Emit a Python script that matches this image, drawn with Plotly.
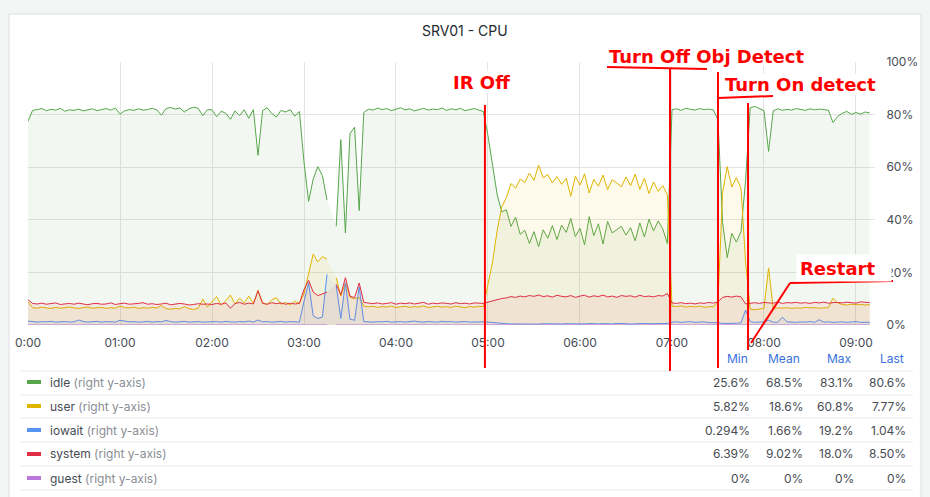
import plotly.graph_objects as go

# ---------------- data ----------------
STEP_MIN = 3  # sample spacing, minutes from 00:00

tick_minutes = [0, 60, 120, 180, 240, 300, 360, 420, 480, 540]
tick_labels = ["0:00", "01:00", "02:00", "03:00", "04:00", "05:00",
               "06:00", "07:00", "08:00", "09:00"]
y_ticks = [0, 20, 40, 60, 80, 100]
y_tick_labels = ["0%", "20%", "40%", "60%", "80%", "100%"]

idle = [
    # 00:00-01:57
    77.5, 81.6, 81.9, 82.3, 81.5, 82.0, 81.7, 82.4, 81.3, 81.8,
    81.6, 82.1, 81.4, 81.9, 82.2, 81.5, 81.8, 82.3, 81.7, 82.5,
    80.2, 81.4, 81.9, 81.6, 82.2, 81.7, 81.9, 82.4, 81.8, 79.8,
    82.3, 82.7, 82.1, 82.5, 81.0, 82.2, 82.8, 82.4, 79.6, 81.9,
    # 02:00-02:57
    81.8, 79.2, 81.3, 80.5, 78.2, 81.4, 79.6, 81.8, 78.6, 81.9,
    64.5, 81.5, 82.6, 80.4, 79.1, 81.6, 81.0, 81.9, 79.4, 81.2,
    # 03:00-03:39
    62.0, 47.0, 55.5, 60.2, 56.8, 47.5, None, 37.5, 70.5, 35.0,
    72.8, 75.2, 43.5, 80.8,
    # 03:42-04:54
    82.1, 81.7, 82.5, 81.9, 82.3, 81.5, 82.0, 82.6, 81.8, 82.2,
    81.4, 82.0, 82.4, 81.7, 82.1, 81.9, 82.5, 81.6, 82.2, 81.8,
    82.4, 81.5, 82.0, 82.3, 81.7,
    # 04:57-06:57
    81.2, 72.0, 61.0, 49.5, 43.0, 43.8, 37.5, 41.0, 34.5, 36.0,
    31.0, 35.5, 29.8, 36.2, 33.0, 37.8, 32.5, 38.0, 35.2, 40.5,
    33.6, 36.8, 30.5, 41.2, 34.0, 38.5, 30.8, 39.4, 35.0, 36.2,
    37.5, 34.2, 37.0, 32.0, 38.8, 33.5, 40.2, 35.8, 39.6, 36.5,
    31.0,
    # 07:00-07:27
    81.8, 82.2, 81.6, 82.4, 82.0, 81.7, 82.3, 81.9, 82.1, 81.8,
    # 07:30-07:48
    78.0, 39.0, 25.6, 34.8, 31.5, 35.5, 55.0,
    # 07:51-09:09
    82.6, 83.1, 82.4, 81.5, 66.0, 81.4, 82.2, 81.6, 82.0, 81.7,
    82.3, 82.0, 81.6, 82.2, 81.8, 82.1, 81.9, 81.7, 77.0, 79.3,
    80.5, 81.2, 80.1, 80.8, 80.2, 81.0, 80.6,
]

user = [
    8.8, 6.6, 6.4, 6.8, 6.5, 6.3, 6.7, 6.4, 6.6, 6.9,
    6.5, 6.3, 6.6, 6.8, 6.4, 6.5, 6.7, 6.3, 6.6, 6.4,
    7.2, 6.6, 6.5, 6.8, 6.3, 6.6, 6.4, 6.7, 6.5, 7.4,
    6.2, 6.0, 6.3, 6.1, 7.0, 6.2, 5.9, 6.4, 9.8, 6.8,
    8.6, 10.8, 7.6, 9.2, 11.4, 8.0, 10.2, 8.4, 11.0, 8.2,
    13.2, 8.5, 7.8, 9.6, 10.4, 7.9, 8.6, 7.7, 9.0, 8.3,
    12.0, 20.0, 27.0, 24.0, 26.0, 25.0, None, 18.0, 11.0, 16.0,
    10.5, 10.0, 10.5, 7.2,
    6.9, 7.1, 6.7, 7.0, 6.8, 7.2, 6.6, 6.9, 7.1, 6.7,
    7.0, 6.8, 7.3, 6.6, 6.9, 7.1, 6.8, 7.0, 6.7, 7.2,
    6.9, 6.6, 7.0, 6.8, 7.1,
    7.0, 15.5, 24.0, 36.0, 45.0, 48.5, 53.8, 52.0, 55.5, 54.2,
    57.8, 55.0, 60.8, 56.0, 57.2, 54.0, 56.5, 53.5, 55.8, 49.0,
    56.6, 53.2, 57.5, 50.2, 55.4, 52.8, 57.0, 51.5, 55.2, 54.0,
    52.6, 56.3, 53.0, 57.4, 51.6, 55.8, 50.0, 54.4, 50.8, 53.0,
    49.5,
    7.2, 7.0, 7.3, 6.8, 7.1, 6.9, 7.2, 6.7, 7.0, 6.9,
    9.0, 50.5, 60.2, 52.5, 56.0, 52.0, 24.0,
    6.0, 5.82, 6.2, 6.4, 21.7, 6.3, 6.5, 6.4, 6.6, 6.3,
    6.5, 6.4, 6.7, 6.5, 6.6, 6.4, 6.5, 6.6, 10.2, 8.4,
    7.8, 7.6, 7.9, 7.7, 7.8, 7.6, 7.77,
]

iowait = [
    1.5, 1.2, 1.1, 1.3, 1.2, 1.4, 1.1, 1.2, 1.3, 1.1,
    1.2, 1.9, 1.3, 1.1, 1.2, 1.4, 1.1, 1.3, 1.2, 1.1,
    1.8, 1.6, 1.2, 1.3, 1.1, 1.2, 1.4, 1.1, 1.3, 1.2,
    1.7, 1.3, 1.1, 1.2, 1.4, 1.1, 1.2, 1.3, 1.1, 1.2,
    1.2, 1.3, 1.1, 1.4, 1.2, 1.1, 1.3, 1.2, 1.5, 1.1,
    1.9, 1.2, 1.3, 1.1, 1.2, 1.4, 1.1, 1.3, 1.2, 1.1,
    9.0, 16.0, 3.5, 2.5, 3.0, 19.2, None, 15.0, 2.5, 16.0,
    2.2, 1.8, 14.5, 1.3,
    1.2, 1.1, 1.3, 1.2, 1.4, 1.1, 1.2, 1.3, 1.1, 1.2,
    1.5, 1.2, 1.1, 1.3, 1.2, 1.1, 1.4, 1.2, 1.3, 1.1,
    1.2, 1.3, 1.1, 1.2, 1.3,
    1.2, 1.1, 0.9, 0.8, 0.6, 0.5,
    0.4, 0.35, 0.5, 0.3, 0.45, 0.4, 0.33, 0.5, 0.4, 0.294,
    0.45, 0.38, 0.5, 0.42, 0.35, 0.48, 0.4, 0.55, 0.36, 0.44,
    0.5, 0.38, 0.42, 0.6, 0.4, 0.47, 0.35, 0.5, 0.42, 0.6,
    0.45, 0.5, 0.55, 0.7, 0.6,
    1.1, 1.2, 1.0, 1.1, 1.3, 1.0, 1.1, 1.2, 0.9, 1.0,
    0.9, 0.6, 0.5, 0.6, 0.7, 0.8, 5.7,
    1.3, 1.0, 1.1, 1.2, 1.8, 1.1, 1.0, 3.0, 1.2, 1.1,
    1.0, 1.2, 1.1, 1.3, 1.0, 2.0, 1.1, 1.2, 1.0, 1.1,
    1.2, 1.0, 1.1, 1.3, 1.0, 1.1, 1.04,
]

system = [
    9.6, 8.2, 8.0, 8.3, 7.9, 8.1, 8.4, 7.8, 8.0, 8.2,
    7.9, 8.3, 8.0, 7.7, 8.1, 8.2, 7.9, 8.0, 8.4, 7.8,
    8.1, 8.3, 7.9, 8.0, 8.2, 8.5, 7.9, 8.1, 7.8, 8.0,
    8.3, 7.7, 7.9, 8.2, 8.0, 7.6, 7.8, 8.1, 7.9, 8.0,
    7.8, 8.2, 7.9, 8.4, 6.39, 8.1, 8.6, 7.9, 8.3, 8.0,
    13.0, 8.2, 7.9, 8.5, 8.1, 8.4, 7.9, 8.3, 8.0, 8.2,
    13.5, 17.0, 12.5, 11.2, 11.8, 12.5, None, 15.5, 11.5, 18.0,
    11.0, 10.4, 16.0, 8.6,
    8.3, 8.1, 8.4, 8.0, 8.2, 8.5, 7.9, 8.3, 8.1, 8.4,
    8.0, 8.2, 8.6, 7.9, 8.3, 8.1, 8.4, 8.2, 8.0, 8.5,
    8.1, 8.3, 8.0, 8.4, 8.2,
    8.2, 8.7, 9.2, 9.6, 10.1, 10.3, 10.8, 10.5, 11.0, 10.7,
    11.2, 10.9, 11.4, 10.8, 11.1, 10.6, 11.3, 10.9, 10.7, 11.2,
    10.5, 11.0, 11.3, 10.6, 11.1, 10.8, 11.4, 10.7, 11.0, 10.5,
    11.2, 10.9, 11.1, 10.6, 11.3, 10.8, 11.0, 10.7, 11.2, 11.0,
    12.0,
    8.4, 8.2, 8.5, 8.1, 8.3, 8.0, 8.4, 8.2, 8.6, 8.3,
    8.8, 10.5, 10.9, 10.6, 11.0, 10.7, 8.0,
    8.3, 8.5, 8.2, 8.6, 8.4, 8.3, 8.7, 8.2, 8.5, 8.4,
    8.6, 8.3, 8.5, 8.2, 8.6, 8.4, 8.7, 8.3, 8.5, 8.6,
    8.4, 8.7, 8.5, 8.3, 8.8, 8.6, 8.50,
]

guest = [
    0, 0, 0, 0, 0, 0, 0, 0, 0, 0, 0, 0, 0, 0, 0, 0, 0, 0, 0, 0,
    0, 0, 0, 0, 0, 0, 0, 0, 0, 0, 0, 0, 0, 0, 0, 0, 0, 0, 0, 0,
    0, 0, 0, 0, 0, 0, 0, 0, 0, 0, 0, 0, 0, 0, 0, 0, 0, 0, 0, 0,
    0, 0, 0, 0, 0, 0, None, 0, 0, 0, 0, 0, 0, 0, 0, 0, 0, 0, 0, 0,
    0, 0, 0, 0, 0, 0, 0, 0, 0, 0, 0, 0, 0, 0, 0, 0, 0, 0, 0, 0,
    0, 0, 0, 0, 0, 0, 0, 0, 0, 0, 0, 0, 0, 0, 0, 0, 0, 0, 0, 0,
    0, 0, 0, 0, 0, 0, 0, 0, 0, 0, 0, 0, 0, 0, 0, 0, 0, 0, 0, 0,
    0, 0, 0, 0, 0, 0, 0, 0, 0, 0, 0, 0, 0, 0, 0, 0, 0, 0, 0, 0,
    0, 0, 0, 0, 0, 0, 0, 0, 0, 0, 0, 0, 0, 0, 0, 0, 0, 0, 0, 0,
    0, 0, 0, 0,
]

series_names = ["idle", "user", "iowait", "system", "guest"]
series_colors = ["#56A64B", "#E0B400", "#5794F2", "#E02F44", "#B877D9"]
stat_min = ["25.6%", "5.82%", "0.294%", "6.39%", "0%"]
stat_mean = ["68.5%", "18.6%", "1.66%", "9.02%", "0%"]
stat_max = ["83.1%", "60.8%", "19.2%", "18.0%", "0%"]
stat_last = ["80.6%", "7.77%", "1.04%", "8.50%", "0%"]

# hand-drawn notes on the screenshot: label and time (minutes after 00:00)
note_ir_off = ("IR Off", 298.0)
note_turn_off = ("Turn Off Obj Detect", 418.7)
note_turn_on = ("Turn On detect", 450.0)
note_restart = ("Restart", 469.6)

all_series = [idle, user, iowait, system, guest]
n = len(idle)
assert all(len(s) == n for s in all_series), [len(s) for s in all_series]
minutes = [i * STEP_MIN for i in range(n)]

# ---------------- figure geometry ----------------
W, H = 930, 497
PL, PR, PT, PB = 28, 875, 62, 325
X_MAX = 552.4


def fx(px):
    return (px - PL) / (PR - PL)


def fy(py):
    return (PB - py) / (PB - PT)


def rgba(hex_color, a):
    h = hex_color.lstrip("#")
    return "rgba(%d,%d,%d,%.3f)" % (int(h[0:2], 16), int(h[2:4], 16), int(h[4:6], 16), a)


fig = go.Figure()
for name, vals, col in zip(series_names, all_series, series_colors):
    fig.add_trace(go.Scatter(
        x=minutes, y=vals, name=name, mode="lines",
        line=dict(color=col, width=1),
        fill="tozeroy", fillcolor=rgba(col, 0.08),
        connectgaps=False, hoverinfo="skip",
    ))

grid = "#e4e4e4"
fig.update_layout(
    width=W, height=H,
    margin=dict(l=PL, r=W - PR, t=PT, b=H - PB, pad=0),
    paper_bgcolor="#f4f5f5", plot_bgcolor="rgba(0,0,0,0)",
    showlegend=False,
    font=dict(family="Inter", size=12, color="#464c54"),
    xaxis=dict(range=[0, X_MAX], tickmode="array", tickvals=tick_minutes,
               ticktext=tick_labels, showgrid=True, gridcolor=grid, gridwidth=1,
               zeroline=False, showline=False, ticks="outside", ticklen=7,
               tickcolor="rgba(0,0,0,0)",
               tickfont=dict(family="Inter", size=12, color="#464c54")),
    yaxis=dict(range=[0, 100], side="right", tickmode="array", tickvals=y_ticks,
               ticktext=y_tick_labels, showgrid=True, gridcolor=grid, gridwidth=1,
               zeroline=False, showline=False, ticks="outside", ticklen=8,
               tickcolor="rgba(0,0,0,0)",
               tickfont=dict(family="Inter", size=12, color="#464c54")),
)

shapes = []
annos = []

# panel
shapes.append(dict(type="rect", xref="paper", yref="paper", layer="below",
                   x0=fx(9), x1=fx(921), y0=fy(14), y1=fy(505),
                   fillcolor="white", line=dict(color="#dcdee2", width=1)))

annos.append(dict(xref="paper", yref="paper", x=fx(465), y=fy(31),
                  text="SRV01 - CPU", showarrow=False, xanchor="center",
                  yanchor="middle",
                  font=dict(family="Inter", size=14, color="#24292e")))

# legend table
header_x = [750, 802, 854, 906]
value_x = [752, 805, 856, 908]
for lab, xx in zip(["Min", "Mean", "Max", "Last"], header_x):
    annos.append(dict(xref="paper", yref="paper", x=fx(xx), y=fy(358), text=lab,
                      showarrow=False, xanchor="right", yanchor="middle",
                      font=dict(family="Inter", size=12, color="#3871dc")))
for ysep in [371, 395, 418, 442, 466, 490]:
    shapes.append(dict(type="line", xref="paper", yref="paper",
                       x0=fx(20), x1=fx(913), y0=fy(ysep), y1=fy(ysep),
                       line=dict(color="#e7e9ec", width=1)))
row_y = [382, 406, 430, 454, 478]
for k, name in enumerate(series_names):
    yy = row_y[k]
    shapes.append(dict(type="rect", xref="paper", yref="paper",
                       x0=fx(27), x1=fx(41), y0=fy(yy + 2), y1=fy(yy - 2),
                       fillcolor=series_colors[k], line=dict(width=0)))
    annos.append(dict(xref="paper", yref="paper", x=fx(48), y=fy(yy),
                      text=name + " <span style='color:#8a8d93'>(right y-axis)</span>",
                      showarrow=False, xanchor="left", yanchor="middle",
                      font=dict(family="Inter", size=12, color="#464c54")))
    for vals, xx in zip([stat_min, stat_mean, stat_max, stat_last], value_x):
        annos.append(dict(xref="paper", yref="paper", x=fx(xx), y=fy(yy),
                          text=vals[k], showarrow=False, xanchor="right",
                          yanchor="middle",
                          font=dict(family="Inter", size=12, color="#464c54")))

# hand-drawn red notes
RED = "#ff0000"


def white_box(x0, y0, x1, y1):
    shapes.append(dict(type="rect", xref="paper", yref="paper", layer="above",
                       x0=fx(x0), x1=fx(x1), y0=fy(y1), y1=fy(y0),
                       fillcolor="white", line=dict(width=0)))


def seg(x0, y0, x1, y1, xref="paper"):
    sx0 = x0 if xref == "x" else fx(x0)
    sx1 = x1 if xref == "x" else fx(x1)
    shapes.append(dict(type="line", xref=xref, yref="paper", layer="above",
                       x0=sx0, x1=sx1, y0=fy(y0), y1=fy(y1),
                       line=dict(color=RED, width=2)))


# white backgrounds of the pasted labels (drawn first)
white_box(449, 71, 513, 93)
white_box(603, 46, 810, 66)
white_box(721, 74, 881, 95)

seg(note_ir_off[1], 105, note_ir_off[1], 368, xref="x")
seg(607, 67, 707, 69)
seg(note_turn_off[1], 69, note_turn_off[1], 371, xref="x")
seg(note_turn_on[1], 72, note_turn_on[1], 368, xref="x")
seg(718, 98, 773, 96)
seg(note_restart[1], 103, note_restart[1], 350, xref="x")
seg(790, 283, 893, 281)
seg(790, 283, 751, 343)

red_font = dict(family="DejaVu Sans", size=18, color=RED)
for (label, _), (cx, cy) in [
    (note_ir_off, (481, 82)),
    (note_turn_off, (706, 57)),
    (note_turn_on, (800, 84)),
]:
    annos.append(dict(xref="paper", yref="paper", x=fx(cx), y=fy(cy),
                      text="<b>" + label + "</b>", showarrow=False,
                      xanchor="center", yanchor="middle",
                      borderpad=0, font=red_font))

# Restart label sits on an opaque white box that also hides part of an axis label
annos.append(dict(xref="paper", yref="paper", x=fx(796), y=fy(268),
                  text="<b>" + note_restart[0] + "</b>", showarrow=False,
                  xanchor="left", yanchor="middle", align="left",
                  width=88, height=20, borderpad=3, bgcolor="white",
                  font=red_font))

fig.update_layout(shapes=shapes, annotations=annos)
fig.write_html("out.html",
               config={"displayModeBar": False},
               post_script="document.body.style.margin='0px';"
                           "document.body.style.overflow='hidden';")
